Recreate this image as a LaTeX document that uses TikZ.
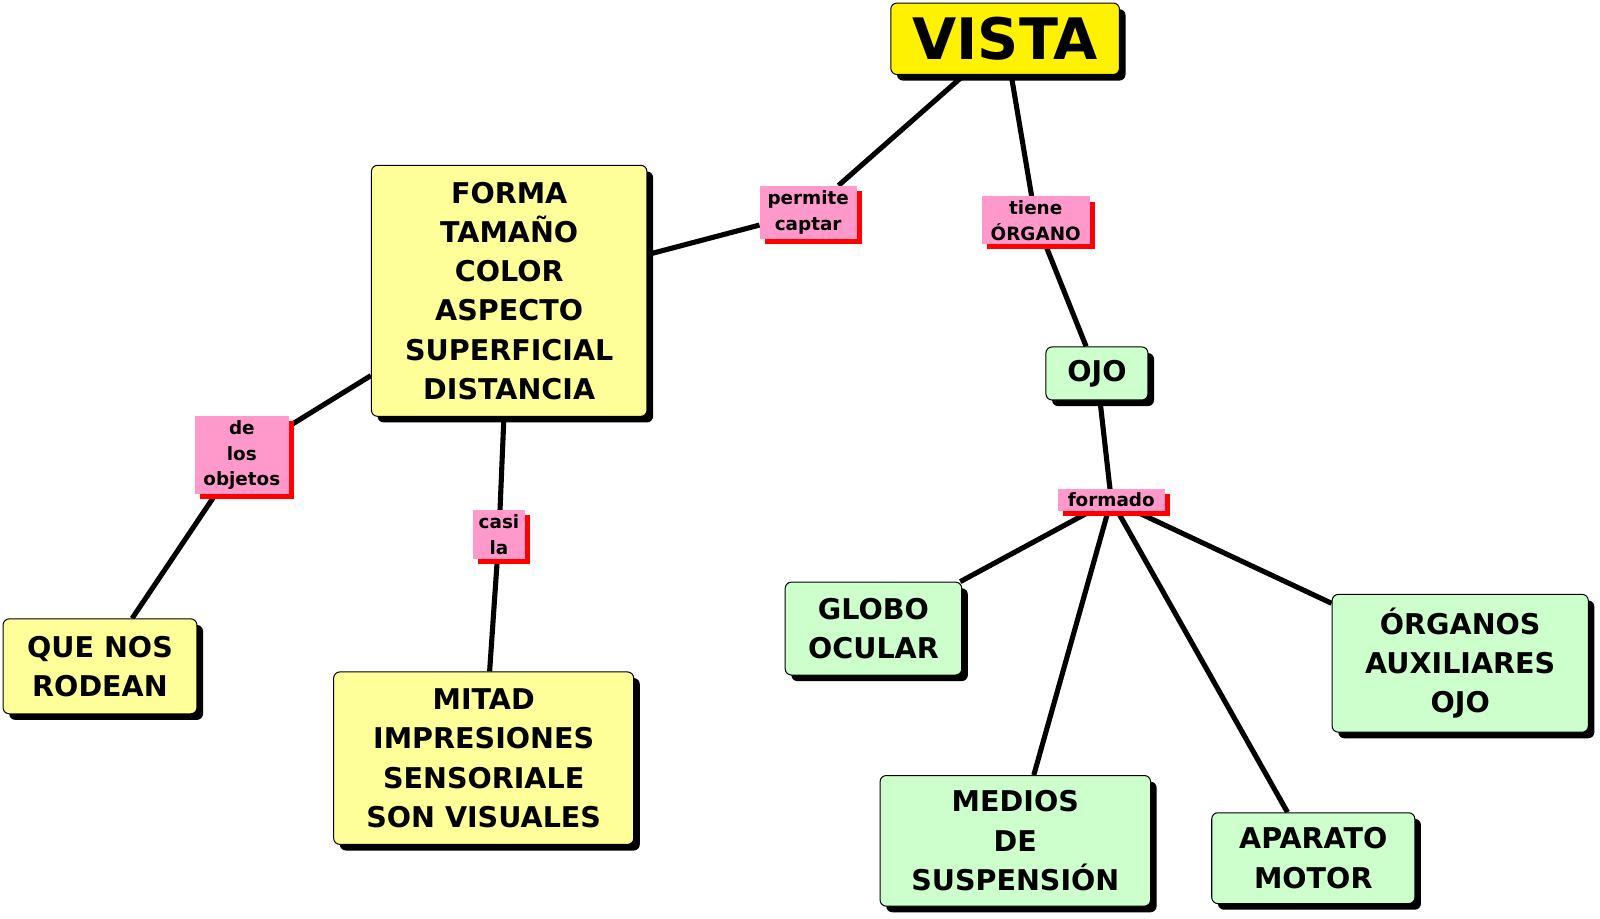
\documentclass[tikz,border=0pt]{standalone}
\usepackage{fontspec}
\setmainfont{DejaVu Sans}
\usetikzlibrary{shadows,backgrounds}
\definecolor{ly}{HTML}{FFFF99}
\definecolor{lg}{HTML}{CCFFCC}
\definecolor{pk}{HTML}{FF99CC}
\begin{document}
\begin{tikzpicture}[x=1pt,y=-1pt,
 box/.style={draw=black,line width=1pt,rounded corners=6pt,align=center,inner sep=0pt,
   font=\fontsize{28}{38.5}\selectfont\bfseries,
   drop shadow={shadow xshift=6pt,shadow yshift=-6pt,fill=black,opacity=1}},
 yel/.style={box,fill=ly},
 grn/.style={box,fill=lg},
 lab/.style={fill=pk,inner sep=1pt,align=center,
   font=\fontsize{18}{25}\selectfont\bfseries,
   drop shadow={shadow xshift=5pt,shadow yshift=-5pt,fill=red,opacity=1}},
 ln/.style={line width=5pt}]
\node[box,fill=yellow,minimum width=224pt,minimum height=70pt,font=\fontsize{56}{60}\selectfont\bfseries] (vista) at (985,38) {VISTA};
\node[yel,minimum width=270pt,minimum height=246pt] (forma) at (499,285) {FORMA\\TAMAÑO\\COLOR\\ASPECTO\\SUPERFICIAL\\DISTANCIA};
\node[yel,minimum width=190pt,minimum height=93pt] (que) at (98,653) {QUE NOS\\RODEAN};
\node[yel,minimum width=294pt,minimum height=169pt] (mitad) at (474,743) {MITAD\\IMPRESIONES\\SENSORIALE\\SON VISUALES};
\node[grn,minimum width=100pt,minimum height=52pt] (ojo) at (1075,366) {OJO};
\node[grn,minimum width=173pt,minimum height=91pt] (globo) at (856,616) {GLOBO\\OCULAR};
\node[grn,minimum width=265pt,minimum height=128pt] (medios) at (995,824) {MEDIOS\\DE\\SUSPENSIÓN};
\node[grn,minimum width=199pt,minimum height=89pt] (aparato) at (1287,841) {APARATO\\MOTOR};
\node[grn,minimum width=251pt,minimum height=135pt] (organos) at (1431,650) {ÓRGANOS\\AUXILIARES\\OJO};
\node[lab,minimum width=95pt,minimum height=52pt] (permite) at (792,208) {permite\\captar};
\node[lab,minimum width=106pt,minimum height=47pt] (tiene) at (1015,216) {tiene\\ÓRGANO};
\node[lab,minimum width=92pt,minimum height=76pt] (de) at (237,446) {de\\los\\objetos};
\node[lab,minimum width=51pt,minimum height=48pt] (casi) at (489,524) {casi\\la};
\node[lab,minimum width=105pt,minimum height=21pt] (formado) at (1089,490) {formado};
\begin{scope}[on background layer]
\draw[ln] (vista) -- (permite);
\draw[ln] (permite) -- (forma);
\draw[ln] (vista) -- (tiene);
\draw[ln] (tiene) -- (ojo);
\draw[ln] (ojo) -- (formado);
\draw[ln] (formado) -- (globo);
\draw[ln] (formado) -- (medios);
\draw[ln] (formado) -- (aparato);
\draw[ln] (formado) -- (organos);
\draw[ln] (forma) -- (de);
\draw[ln] (de) -- (que);
\draw[ln] (forma) -- (casi);
\draw[ln] (casi) -- (mitad);
\end{scope}
\pgfresetboundingbox
\useasboundingbox (0,0) rectangle (1568,900);
\end{tikzpicture}
\end{document}
